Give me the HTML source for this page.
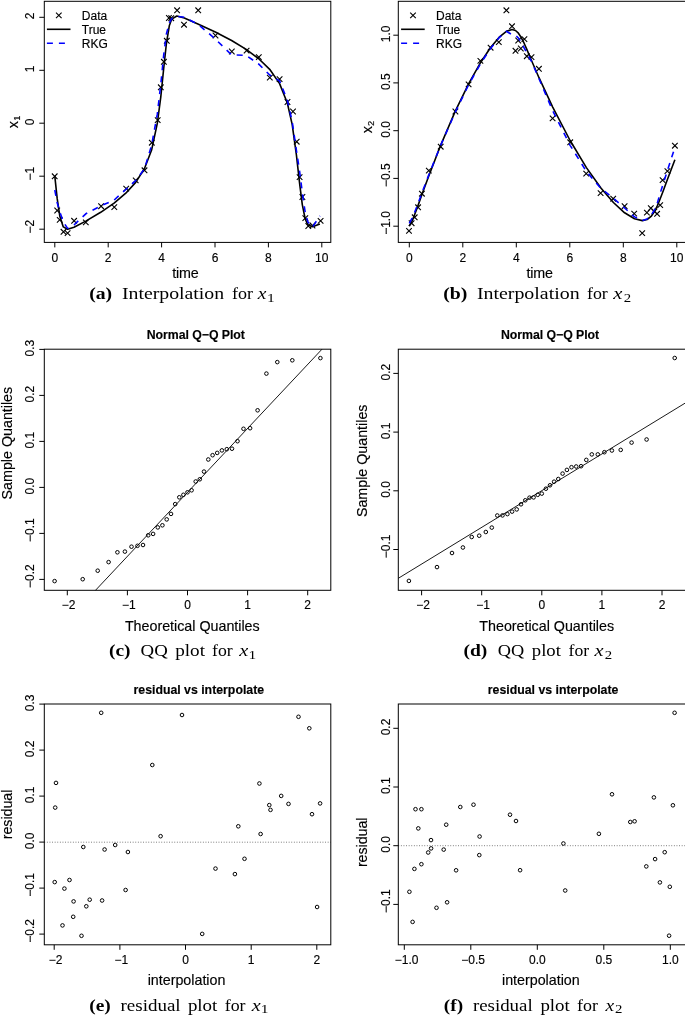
<!DOCTYPE html>
<html><head><meta charset="utf-8"><title>Figure</title>
<style>
html,body{margin:0;padding:0;background:#fff}
svg{display:block}
text{font-family:"Liberation Sans",sans-serif;fill:#000;stroke:#000;stroke-width:0.15px}
.cap{font-family:"Liberation Serif",serif;stroke:none}
</style></head><body>
<svg width="685" height="1016" viewBox="0 0 685 1016">
<defs><clipPath id="cb"><rect x="398.3" y="0" width="300" height="245"/></clipPath>
<clipPath id="cd"><rect x="398.3" y="340" width="300" height="260"/></clipPath></defs>
<rect width="685" height="1016" fill="#fff"/>
<path d="M51.9 173.5l5.6 5.6m0 -5.6l-5.6 5.6M54.4 207.7l5.6 5.6m0 -5.6l-5.6 5.6M56.9 217.1l5.6 5.6m0 -5.6l-5.6 5.6M60.7 229.0l5.6 5.6m0 -5.6l-5.6 5.6M64.8 230.3l5.6 5.6m0 -5.6l-5.6 5.6M71.3 218.0l5.6 5.6m0 -5.6l-5.6 5.6M83.0 219.6l5.6 5.6m0 -5.6l-5.6 5.6M98.3 203.4l5.6 5.6m0 -5.6l-5.6 5.6M111.5 204.3l5.6 5.6m0 -5.6l-5.6 5.6M123.4 185.8l5.6 5.6m0 -5.6l-5.6 5.6M132.9 177.6l5.6 5.6m0 -5.6l-5.6 5.6M141.7 167.5l5.6 5.6m0 -5.6l-5.6 5.6M149.0 139.9l5.6 5.6m0 -5.6l-5.6 5.6M154.9 117.3l5.6 5.6m0 -5.6l-5.6 5.6M158.0 84.5l5.6 5.6m0 -5.6l-5.6 5.6M161.1 59.0l5.6 5.6m0 -5.6l-5.6 5.6M164.0 38.0l5.6 5.6m0 -5.6l-5.6 5.6M166.1 15.2l5.6 5.6m0 -5.6l-5.6 5.6M168.4 15.4l5.6 5.6m0 -5.6l-5.6 5.6M174.3 7.5l5.6 5.6m0 -5.6l-5.6 5.6M181.2 21.9l5.6 5.6m0 -5.6l-5.6 5.6M195.4 7.5l5.6 5.6m0 -5.6l-5.6 5.6M212.7 32.7l5.6 5.6m0 -5.6l-5.6 5.6M229.0 48.7l5.6 5.6m0 -5.6l-5.6 5.6M243.8 47.8l5.6 5.6m0 -5.6l-5.6 5.6M256.0 54.3l5.6 5.6m0 -5.6l-5.6 5.6M267.0 74.8l5.6 5.6m0 -5.6l-5.6 5.6M276.8 76.3l5.6 5.6m0 -5.6l-5.6 5.6M284.7 99.2l5.6 5.6m0 -5.6l-5.6 5.6M290.2 108.7l5.6 5.6m0 -5.6l-5.6 5.6M293.9 138.9l5.6 5.6m0 -5.6l-5.6 5.6M296.8 174.3l5.6 5.6m0 -5.6l-5.6 5.6M299.6 194.2l5.6 5.6m0 -5.6l-5.6 5.6M302.5 215.3l5.6 5.6m0 -5.6l-5.6 5.6M305.5 223.2l5.6 5.6m0 -5.6l-5.6 5.6M309.7 222.7l5.6 5.6m0 -5.6l-5.6 5.6M317.8 218.1l5.6 5.6m0 -5.6l-5.6 5.6" stroke="#000" stroke-width="1.1" fill="none"/>
<polyline points="54.8,176.2 57.2,198.7 59.9,216.6 63.3,226.9 67.6,229.3 74.0,227.2 85.8,221.1 100.7,212.3 114.1,203.1 125.8,193.2 135.7,182.4 144.5,168.5 151.7,149.7 157.3,123.3 160.8,96.9 163.7,68.3 166.4,43.5 169.3,25.8 171.7,19.1 176.8,16.0 184.3,18.1 197.9,23.9 215.3,32.0 231.6,40.5 246.2,49.4 258.5,58.5 269.7,69.3 279.6,83.6 287.4,103.2 292.2,124.6 296.4,154.9 299.6,183.4 302.3,204.6 305.2,219.0 307.9,224.8 312.5,226.7 319.9,223.9" fill="none" stroke="#000" stroke-width="1.6" stroke-linejoin="round"/>
<polyline points="54.8,190.0 57.2,202.7 59.9,212.2 63.3,221.8 67.6,228.4 74.0,225.0 85.8,213.8 100.7,205.9 114.1,200.1 125.8,189.5 135.7,180.5 144.5,168.8 151.7,144.8 157.3,114.2 160.8,84.3 163.7,55.2 166.4,34.0 169.3,23.0 171.7,18.7 176.8,16.3 184.3,17.3 197.9,24.2 215.3,39.0 231.6,54.9 246.2,55.4 258.5,63.9 269.7,75.0 279.6,80.9 287.4,100.5 292.2,121.6 296.4,150.4 299.6,171.4 302.3,192.6 305.2,212.4 307.9,222.0 312.5,227.1 319.9,215.9" fill="none" stroke="#00f" stroke-width="1.6" stroke-dasharray="6 6" stroke-linejoin="round"/>
<rect x="44.3" y="1.3" width="286.5" height="241.1" fill="none" stroke="#000" stroke-width="1.0"/>
<path d="M54.8 242.4v5.0M108.2 242.4v5.0M161.6 242.4v5.0M215.0 242.4v5.0M268.4 242.4v5.0M321.8 242.4v5.0" stroke="#000" stroke-width="1.0" fill="none"/>
<text x="54.8" y="261.5" text-anchor="middle" font-size="12">0</text>
<text x="108.2" y="261.5" text-anchor="middle" font-size="12">2</text>
<text x="161.6" y="261.5" text-anchor="middle" font-size="12">4</text>
<text x="215.0" y="261.5" text-anchor="middle" font-size="12">6</text>
<text x="268.4" y="261.5" text-anchor="middle" font-size="12">8</text>
<text x="321.8" y="261.5" text-anchor="middle" font-size="12">10</text>
<path d="M44.3 17.3h-5.0M44.3 70.3h-5.0M44.3 123.2h-5.0M44.3 176.2h-5.0M44.3 229.2h-5.0" stroke="#000" stroke-width="1.0" fill="none"/>
<text transform="translate(34.0 16.0) rotate(-90)" text-anchor="middle" font-size="12">2</text>
<text transform="translate(34.0 69.0) rotate(-90)" text-anchor="middle" font-size="12">1</text>
<text transform="translate(34.0 122.0) rotate(-90)" text-anchor="middle" font-size="12">0</text>
<text transform="translate(34.0 173.7) rotate(-90)" text-anchor="middle" font-size="12">−1</text>
<text transform="translate(34.0 226.7) rotate(-90)" text-anchor="middle" font-size="12">−2</text>
<text x="172.2" y="277.7" font-size="14.3" textLength="26.4">time</text>
<text transform="translate(17.6 128.2) rotate(-90)" font-size="14.3">x<tspan font-size="9.3" dy="2.4" dx="0.4">1</tspan></text>
<path d="M56.0 12.6l5.6 5.6m0 -5.6l-5.6 5.6" stroke="#000" stroke-width="1.1" fill="none"/>
<path d="M46.9 29.3h23.6" stroke="#000" stroke-width="1.6"/>
<path d="M46.9 43.3h23.6" stroke="#00f" stroke-width="1.6" stroke-dasharray="6 6"/>
<text x="81.8" y="19.5" font-size="12">Data</text>
<text x="81.8" y="33.6" font-size="12">True</text>
<text x="81.8" y="47.5" font-size="12">RKG</text>
<path d="M406.2 228.1l5.6 5.6m0 -5.6l-5.6 5.6M408.8 220.4l5.6 5.6m0 -5.6l-5.6 5.6M411.9 214.5l5.6 5.6m0 -5.6l-5.6 5.6M415.3 204.5l5.6 5.6m0 -5.6l-5.6 5.6M419.1 190.9l5.6 5.6m0 -5.6l-5.6 5.6M426.0 167.8l5.6 5.6m0 -5.6l-5.6 5.6M437.9 143.9l5.6 5.6m0 -5.6l-5.6 5.6M452.6 108.7l5.6 5.6m0 -5.6l-5.6 5.6M465.8 81.6l5.6 5.6m0 -5.6l-5.6 5.6M477.6 58.1l5.6 5.6m0 -5.6l-5.6 5.6M487.8 44.9l5.6 5.6m0 -5.6l-5.6 5.6M496.0 39.3l5.6 5.6m0 -5.6l-5.6 5.6M503.6 7.5l5.6 5.6m0 -5.6l-5.6 5.6M509.2 23.5l5.6 5.6m0 -5.6l-5.6 5.6M512.7 48.0l5.6 5.6m0 -5.6l-5.6 5.6M515.4 37.7l5.6 5.6m0 -5.6l-5.6 5.6M518.0 45.7l5.6 5.6m0 -5.6l-5.6 5.6M521.6 36.3l5.6 5.6m0 -5.6l-5.6 5.6M524.0 53.4l5.6 5.6m0 -5.6l-5.6 5.6M528.7 54.3l5.6 5.6m0 -5.6l-5.6 5.6M536.1 66.0l5.6 5.6m0 -5.6l-5.6 5.6M549.8 115.6l5.6 5.6m0 -5.6l-5.6 5.6M567.4 139.5l5.6 5.6m0 -5.6l-5.6 5.6M583.4 170.8l5.6 5.6m0 -5.6l-5.6 5.6M597.8 190.3l5.6 5.6m0 -5.6l-5.6 5.6M610.4 195.9l5.6 5.6m0 -5.6l-5.6 5.6M621.8 203.4l5.6 5.6m0 -5.6l-5.6 5.6M631.4 210.8l5.6 5.6m0 -5.6l-5.6 5.6M639.4 230.3l5.6 5.6m0 -5.6l-5.6 5.6M644.1 209.8l5.6 5.6m0 -5.6l-5.6 5.6M648.0 205.4l5.6 5.6m0 -5.6l-5.6 5.6M651.6 208.7l5.6 5.6m0 -5.6l-5.6 5.6M654.3 211.0l5.6 5.6m0 -5.6l-5.6 5.6M657.4 202.3l5.6 5.6m0 -5.6l-5.6 5.6M659.8 177.3l5.6 5.6m0 -5.6l-5.6 5.6M664.6 168.3l5.6 5.6m0 -5.6l-5.6 5.6M672.1 142.9l5.6 5.6m0 -5.6l-5.6 5.6" stroke="#000" stroke-width="1.1" fill="none"/>
<g clip-path="url(#cb)">
<polyline points="409.3,226.2 411.7,221.6 414.4,215.2 417.9,205.9 422.1,194.1 428.6,176.5 440.3,146.1 455.3,111.1 468.7,83.7 480.5,62.7 490.4,47.8 499.2,37.2 506.4,31.3 512.0,29.5 515.5,30.5 518.4,33.2 521.1,37.3 524.1,43.2 526.5,48.6 531.5,60.5 539.0,77.7 552.7,107.1 570.1,140.5 586.4,167.6 601.1,188.2 613.4,202.5 624.6,212.8 634.5,218.8 642.3,220.6 647.1,219.5 651.4,216.1 654.6,211.4 657.3,205.9 660.2,198.8 662.9,191.8 667.4,179.5 674.9,159.8" fill="none" stroke="#000" stroke-width="1.6" stroke-linejoin="round"/>
<polyline points="409.3,223.3 411.7,218.9 414.4,212.9 417.9,203.9 422.1,192.4 428.6,175.4 440.3,146.2 455.3,112.1 468.7,84.6 480.5,63.7 490.4,48.7 499.2,37.6 506.4,31.3 512.0,34.7 515.5,35.3 518.4,38.0 521.1,42.0 524.1,47.9 526.5,52.4 531.5,61.4 539.0,78.7 552.7,110.7 570.1,145.3 586.4,171.4 601.1,188.7 613.4,198.2 624.6,208.0 634.5,216.9 642.3,220.6 647.1,218.9 651.4,214.9 654.6,209.6 657.3,203.1 660.2,193.2 662.9,184.6 667.4,170.6 674.9,147.4" fill="none" stroke="#00f" stroke-width="1.6" stroke-dasharray="6 6" stroke-linejoin="round"/>
</g>
<rect x="398.3" y="1.3" width="287.7" height="241.1" fill="none" stroke="#000" stroke-width="1.0"/>
<path d="M409.3 242.4v5.0M462.8 242.4v5.0M516.3 242.4v5.0M569.8 242.4v5.0M623.3 242.4v5.0M676.8 242.4v5.0" stroke="#000" stroke-width="1.0" fill="none"/>
<text x="409.3" y="261.5" text-anchor="middle" font-size="12">0</text>
<text x="462.8" y="261.5" text-anchor="middle" font-size="12">2</text>
<text x="516.3" y="261.5" text-anchor="middle" font-size="12">4</text>
<text x="569.8" y="261.5" text-anchor="middle" font-size="12">6</text>
<text x="623.3" y="261.5" text-anchor="middle" font-size="12">8</text>
<text x="676.8" y="261.5" text-anchor="middle" font-size="12">10</text>
<path d="M398.3 35.2h-5.0M398.3 82.9h-5.0M398.3 130.7h-5.0M398.3 178.4h-5.0M398.3 226.2h-5.0" stroke="#000" stroke-width="1.0" fill="none"/>
<text transform="translate(389.7 33.9) rotate(-90)" text-anchor="middle" font-size="12">1.0</text>
<text transform="translate(389.7 81.6) rotate(-90)" text-anchor="middle" font-size="12">0.5</text>
<text transform="translate(389.7 129.4) rotate(-90)" text-anchor="middle" font-size="12">0.0</text>
<text transform="translate(389.7 175.2) rotate(-90)" text-anchor="middle" font-size="12">−0.5</text>
<text transform="translate(389.7 223.0) rotate(-90)" text-anchor="middle" font-size="12">−1.0</text>
<text x="526.6" y="277.7" font-size="14.3" textLength="26.4">time</text>
<text transform="translate(371.5 133.3) rotate(-90)" font-size="14.3">x<tspan font-size="9.3" dy="2.4" dx="0.2">2</tspan></text>
<path d="M410.2 12.6l5.6 5.6m0 -5.6l-5.6 5.6" stroke="#000" stroke-width="1.1" fill="none"/>
<path d="M401.1 29.3h23.6" stroke="#000" stroke-width="1.6"/>
<path d="M401.1 43.3h23.6" stroke="#00f" stroke-width="1.6" stroke-dasharray="6 6"/>
<text x="436.00000000000006" y="19.5" font-size="12">Data</text>
<text x="436.00000000000006" y="33.6" font-size="12">True</text>
<text x="436.00000000000006" y="47.5" font-size="12">RKG</text>
<g fill="none" stroke="#000" stroke-width="1.0">
<circle cx="54.6" cy="581.1" r="1.8"/>
<circle cx="82.7" cy="579.2" r="1.8"/>
<circle cx="97.7" cy="570.7" r="1.8"/>
<circle cx="108.6" cy="562.1" r="1.8"/>
<circle cx="117.4" cy="552.3" r="1.8"/>
<circle cx="124.9" cy="551.6" r="1.8"/>
<circle cx="131.5" cy="546.7" r="1.8"/>
<circle cx="137.5" cy="545.8" r="1.8"/>
<circle cx="143.0" cy="545.0" r="1.8"/>
<circle cx="148.2" cy="535.3" r="1.8"/>
<circle cx="153.1" cy="533.9" r="1.8"/>
<circle cx="157.8" cy="527.4" r="1.8"/>
<circle cx="162.4" cy="525.3" r="1.8"/>
<circle cx="166.7" cy="519.4" r="1.8"/>
<circle cx="171.0" cy="513.9" r="1.8"/>
<circle cx="175.2" cy="504.1" r="1.8"/>
<circle cx="179.3" cy="497.3" r="1.8"/>
<circle cx="183.4" cy="494.8" r="1.8"/>
<circle cx="187.5" cy="492.3" r="1.8"/>
<circle cx="191.6" cy="490.3" r="1.8"/>
<circle cx="195.7" cy="481.5" r="1.8"/>
<circle cx="199.8" cy="479.3" r="1.8"/>
<circle cx="204.0" cy="471.6" r="1.8"/>
<circle cx="208.3" cy="459.5" r="1.8"/>
<circle cx="212.6" cy="455.2" r="1.8"/>
<circle cx="217.2" cy="452.9" r="1.8"/>
<circle cx="221.9" cy="450.4" r="1.8"/>
<circle cx="226.8" cy="449.2" r="1.8"/>
<circle cx="232.0" cy="448.7" r="1.8"/>
<circle cx="237.5" cy="441.2" r="1.8"/>
<circle cx="243.5" cy="428.8" r="1.8"/>
<circle cx="250.1" cy="428.2" r="1.8"/>
<circle cx="257.6" cy="410.3" r="1.8"/>
<circle cx="266.4" cy="373.6" r="1.8"/>
<circle cx="277.3" cy="362.1" r="1.8"/>
<circle cx="292.3" cy="360.3" r="1.8"/>
<circle cx="320.4" cy="358.1" r="1.8"/>
</g>
<path d="M95.5 590.3L322.0 349.2" stroke="#000" stroke-width="0.9"/>
<rect x="44.3" y="349.2" width="286.5" height="241.1" fill="none" stroke="#000" stroke-width="1.0"/>
<path d="M67.3 590.3v5.0M127.4 590.3v5.0M187.5 590.3v5.0M247.6 590.3v5.0M307.7 590.3v5.0" stroke="#000" stroke-width="1.0" fill="none"/>
<text x="68.7" y="609.4" text-anchor="middle" font-size="12">−2</text>
<text x="128.8" y="609.4" text-anchor="middle" font-size="12">−1</text>
<text x="187.5" y="609.4" text-anchor="middle" font-size="12">0</text>
<text x="247.6" y="609.4" text-anchor="middle" font-size="12">1</text>
<text x="307.7" y="609.4" text-anchor="middle" font-size="12">2</text>
<path d="M44.3 349.4h-5.0M44.3 395.4h-5.0M44.3 441.4h-5.0M44.3 487.4h-5.0M44.3 533.4h-5.0M44.3 579.4h-5.0" stroke="#000" stroke-width="1.0" fill="none"/>
<text transform="translate(34.0 348.1) rotate(-90)" text-anchor="middle" font-size="12">0.3</text>
<text transform="translate(34.0 394.1) rotate(-90)" text-anchor="middle" font-size="12">0.2</text>
<text transform="translate(34.0 440.1) rotate(-90)" text-anchor="middle" font-size="12">0.1</text>
<text transform="translate(34.0 486.1) rotate(-90)" text-anchor="middle" font-size="12">0.0</text>
<text transform="translate(34.0 530.2) rotate(-90)" text-anchor="middle" font-size="12">−0.1</text>
<text transform="translate(34.0 576.2) rotate(-90)" text-anchor="middle" font-size="12">−0.2</text>
<text x="146.7" y="339.1" font-size="12.3" font-weight="bold" textLength="98.2">Normal Q−Q Plot</text>
<text x="124.9" y="630.6" font-size="14.3" textLength="134.8">Theoretical Quantiles</text>
<text transform="translate(12.4 499.4) rotate(-90)" font-size="14.3" textLength="112.6">Sample Quantiles</text>
<g fill="none" stroke="#000" stroke-width="1.0" clip-path="url(#cd)">
<circle cx="408.9" cy="580.9" r="1.8"/>
<circle cx="437.0" cy="567.1" r="1.8"/>
<circle cx="452.0" cy="553.0" r="1.8"/>
<circle cx="462.9" cy="547.5" r="1.8"/>
<circle cx="471.7" cy="537.0" r="1.8"/>
<circle cx="479.2" cy="535.7" r="1.8"/>
<circle cx="485.8" cy="532.0" r="1.8"/>
<circle cx="491.8" cy="527.6" r="1.8"/>
<circle cx="497.3" cy="515.5" r="1.8"/>
<circle cx="502.5" cy="515.4" r="1.8"/>
<circle cx="507.4" cy="514.1" r="1.8"/>
<circle cx="512.1" cy="511.6" r="1.8"/>
<circle cx="516.7" cy="509.4" r="1.8"/>
<circle cx="521.0" cy="504.3" r="1.8"/>
<circle cx="525.3" cy="500.3" r="1.8"/>
<circle cx="529.5" cy="497.7" r="1.8"/>
<circle cx="533.6" cy="497.4" r="1.8"/>
<circle cx="537.7" cy="494.8" r="1.8"/>
<circle cx="541.8" cy="493.6" r="1.8"/>
<circle cx="545.9" cy="488.7" r="1.8"/>
<circle cx="550.0" cy="485.3" r="1.8"/>
<circle cx="554.1" cy="481.7" r="1.8"/>
<circle cx="558.3" cy="479.0" r="1.8"/>
<circle cx="562.6" cy="473.6" r="1.8"/>
<circle cx="566.9" cy="469.9" r="1.8"/>
<circle cx="571.5" cy="467.2" r="1.8"/>
<circle cx="576.2" cy="466.5" r="1.8"/>
<circle cx="581.1" cy="466.2" r="1.8"/>
<circle cx="586.3" cy="459.9" r="1.8"/>
<circle cx="591.8" cy="454.4" r="1.8"/>
<circle cx="597.8" cy="454.4" r="1.8"/>
<circle cx="604.4" cy="452.2" r="1.8"/>
<circle cx="611.9" cy="450.5" r="1.8"/>
<circle cx="620.7" cy="449.9" r="1.8"/>
<circle cx="631.6" cy="442.6" r="1.8"/>
<circle cx="646.6" cy="439.5" r="1.8"/>
<circle cx="674.7" cy="358.0" r="1.8"/>
</g>
<path d="M398.3 578.3L685 403.2" stroke="#000" stroke-width="0.9"/>
<rect x="398.3" y="349.2" width="287.7" height="241.1" fill="none" stroke="#000" stroke-width="1.0"/>
<path d="M421.6 590.3v5.0M481.7 590.3v5.0M541.8 590.3v5.0M601.9 590.3v5.0M662.0 590.3v5.0" stroke="#000" stroke-width="1.0" fill="none"/>
<text x="423.0" y="609.4" text-anchor="middle" font-size="12">−2</text>
<text x="483.1" y="609.4" text-anchor="middle" font-size="12">−1</text>
<text x="541.8" y="609.4" text-anchor="middle" font-size="12">0</text>
<text x="601.9" y="609.4" text-anchor="middle" font-size="12">1</text>
<text x="662.0" y="609.4" text-anchor="middle" font-size="12">2</text>
<path d="M398.3 373.4h-5.0M398.3 432.1h-5.0M398.3 490.8h-5.0M398.3 549.5h-5.0" stroke="#000" stroke-width="1.0" fill="none"/>
<text transform="translate(389.7 372.1) rotate(-90)" text-anchor="middle" font-size="12">0.2</text>
<text transform="translate(389.7 430.8) rotate(-90)" text-anchor="middle" font-size="12">0.1</text>
<text transform="translate(389.7 489.5) rotate(-90)" text-anchor="middle" font-size="12">0.0</text>
<text transform="translate(389.7 546.3) rotate(-90)" text-anchor="middle" font-size="12">−0.1</text>
<text x="501.0" y="339.1" font-size="12.3" font-weight="bold" textLength="98.2">Normal Q−Q Plot</text>
<text x="479.3" y="630.6" font-size="14.3" textLength="134.8">Theoretical Quantiles</text>
<text transform="translate(367.0 517.1) rotate(-90)" font-size="14.3" textLength="112.6">Sample Quantiles</text>
<g fill="none" stroke="#000" stroke-width="1.0">
<circle cx="101.2" cy="712.8" r="1.8"/>
<circle cx="56.0" cy="782.9" r="1.8"/>
<circle cx="55.2" cy="807.6" r="1.8"/>
<circle cx="83.3" cy="847.0" r="1.8"/>
<circle cx="104.6" cy="849.5" r="1.8"/>
<circle cx="115.2" cy="845.0" r="1.8"/>
<circle cx="127.9" cy="852.0" r="1.8"/>
<circle cx="54.7" cy="882.1" r="1.8"/>
<circle cx="69.5" cy="880.0" r="1.8"/>
<circle cx="64.4" cy="888.6" r="1.8"/>
<circle cx="125.6" cy="890.0" r="1.8"/>
<circle cx="73.6" cy="901.4" r="1.8"/>
<circle cx="89.7" cy="899.7" r="1.8"/>
<circle cx="102.1" cy="900.5" r="1.8"/>
<circle cx="86.3" cy="906.3" r="1.8"/>
<circle cx="73.2" cy="916.8" r="1.8"/>
<circle cx="62.5" cy="925.4" r="1.8"/>
<circle cx="81.5" cy="935.8" r="1.8"/>
<circle cx="182.0" cy="715.0" r="1.8"/>
<circle cx="152.3" cy="765.0" r="1.8"/>
<circle cx="160.6" cy="836.2" r="1.8"/>
<circle cx="215.5" cy="868.6" r="1.8"/>
<circle cx="234.9" cy="874.1" r="1.8"/>
<circle cx="202.2" cy="933.9" r="1.8"/>
<circle cx="238.3" cy="826.3" r="1.8"/>
<circle cx="298.5" cy="716.8" r="1.8"/>
<circle cx="309.3" cy="728.3" r="1.8"/>
<circle cx="259.4" cy="783.5" r="1.8"/>
<circle cx="281.2" cy="795.9" r="1.8"/>
<circle cx="269.3" cy="805.1" r="1.8"/>
<circle cx="270.5" cy="809.9" r="1.8"/>
<circle cx="288.5" cy="803.9" r="1.8"/>
<circle cx="320.1" cy="803.4" r="1.8"/>
<circle cx="312.0" cy="814.2" r="1.8"/>
<circle cx="260.6" cy="834.0" r="1.8"/>
<circle cx="244.5" cy="858.8" r="1.8"/>
<circle cx="317.1" cy="907.0" r="1.8"/>
</g>
<path d="M44.3 842.2H330.8" stroke="#000" stroke-width="0.8" stroke-opacity="0.7" stroke-dasharray="0.9 1.7"/>
<rect x="44.3" y="704.0" width="286.5" height="240.8" fill="none" stroke="#000" stroke-width="1.0"/>
<path d="M54.2 944.8v5.0M119.9 944.8v5.0M185.5 944.8v5.0M251.2 944.8v5.0M316.8 944.8v5.0" stroke="#000" stroke-width="1.0" fill="none"/>
<text x="55.6" y="963.9" text-anchor="middle" font-size="12">−2</text>
<text x="121.3" y="963.9" text-anchor="middle" font-size="12">−1</text>
<text x="185.5" y="963.9" text-anchor="middle" font-size="12">0</text>
<text x="251.2" y="963.9" text-anchor="middle" font-size="12">1</text>
<text x="316.8" y="963.9" text-anchor="middle" font-size="12">2</text>
<path d="M44.3 704.1h-5.0M44.3 750.1h-5.0M44.3 796.1h-5.0M44.3 842.1h-5.0M44.3 888.1h-5.0M44.3 934.1h-5.0" stroke="#000" stroke-width="1.0" fill="none"/>
<text transform="translate(34.0 702.8) rotate(-90)" text-anchor="middle" font-size="12">0.3</text>
<text transform="translate(34.0 748.8) rotate(-90)" text-anchor="middle" font-size="12">0.2</text>
<text transform="translate(34.0 794.8) rotate(-90)" text-anchor="middle" font-size="12">0.1</text>
<text transform="translate(34.0 840.8) rotate(-90)" text-anchor="middle" font-size="12">0.0</text>
<text transform="translate(34.0 884.9) rotate(-90)" text-anchor="middle" font-size="12">−0.1</text>
<text transform="translate(34.0 930.9) rotate(-90)" text-anchor="middle" font-size="12">−0.2</text>
<text x="133.5" y="693.7" font-size="12.3" font-weight="bold" textLength="130.6">residual vs interpolate</text>
<text x="147.7" y="984.9" font-size="14.3" textLength="77.7">interpolation</text>
<text transform="translate(12.4 839.2) rotate(-90)" font-size="14.3" textLength="49.6">residual</text>
<g fill="none" stroke="#000" stroke-width="1.0">
<circle cx="415.5" cy="809.2" r="1.8"/>
<circle cx="421.4" cy="809.2" r="1.8"/>
<circle cx="460.3" cy="807.0" r="1.8"/>
<circle cx="473.5" cy="804.7" r="1.8"/>
<circle cx="446.2" cy="824.7" r="1.8"/>
<circle cx="418.3" cy="828.4" r="1.8"/>
<circle cx="431.0" cy="840.1" r="1.8"/>
<circle cx="479.6" cy="836.5" r="1.8"/>
<circle cx="431.1" cy="848.4" r="1.8"/>
<circle cx="428.2" cy="852.5" r="1.8"/>
<circle cx="443.7" cy="849.6" r="1.8"/>
<circle cx="479.3" cy="855.1" r="1.8"/>
<circle cx="421.4" cy="864.2" r="1.8"/>
<circle cx="414.4" cy="868.9" r="1.8"/>
<circle cx="456.1" cy="870.3" r="1.8"/>
<circle cx="409.4" cy="891.8" r="1.8"/>
<circle cx="447.1" cy="902.3" r="1.8"/>
<circle cx="436.5" cy="907.8" r="1.8"/>
<circle cx="412.6" cy="921.9" r="1.8"/>
<circle cx="510.0" cy="814.7" r="1.8"/>
<circle cx="516.0" cy="821.0" r="1.8"/>
<circle cx="563.4" cy="843.5" r="1.8"/>
<circle cx="520.1" cy="870.2" r="1.8"/>
<circle cx="565.2" cy="890.5" r="1.8"/>
<circle cx="674.6" cy="712.8" r="1.8"/>
<circle cx="612.0" cy="794.3" r="1.8"/>
<circle cx="653.9" cy="797.4" r="1.8"/>
<circle cx="672.9" cy="805.3" r="1.8"/>
<circle cx="630.3" cy="822.0" r="1.8"/>
<circle cx="634.6" cy="821.3" r="1.8"/>
<circle cx="598.9" cy="833.8" r="1.8"/>
<circle cx="664.7" cy="852.2" r="1.8"/>
<circle cx="655.1" cy="859.1" r="1.8"/>
<circle cx="646.3" cy="866.4" r="1.8"/>
<circle cx="659.9" cy="882.4" r="1.8"/>
<circle cx="669.8" cy="886.8" r="1.8"/>
<circle cx="669.1" cy="935.7" r="1.8"/>
</g>
<path d="M398.3 845.7H685" stroke="#000" stroke-width="0.8" stroke-opacity="0.7" stroke-dasharray="0.9 1.7"/>
<rect x="398.3" y="704.0" width="287.7" height="240.8" fill="none" stroke="#000" stroke-width="1.0"/>
<path d="M404.3 944.8v5.0M470.8 944.8v5.0M537.3 944.8v5.0M603.8 944.8v5.0M670.3 944.8v5.0" stroke="#000" stroke-width="1.0" fill="none"/>
<text x="406.7" y="963.9" text-anchor="middle" font-size="12">−1.0</text>
<text x="473.2" y="963.9" text-anchor="middle" font-size="12">−0.5</text>
<text x="537.3" y="963.9" text-anchor="middle" font-size="12">0.0</text>
<text x="603.8" y="963.9" text-anchor="middle" font-size="12">0.5</text>
<text x="670.3" y="963.9" text-anchor="middle" font-size="12">1.0</text>
<path d="M398.3 728.3h-5.0M398.3 787.0h-5.0M398.3 845.7h-5.0M398.3 904.4h-5.0" stroke="#000" stroke-width="1.0" fill="none"/>
<text transform="translate(389.7 727.0) rotate(-90)" text-anchor="middle" font-size="12">0.2</text>
<text transform="translate(389.7 785.7) rotate(-90)" text-anchor="middle" font-size="12">0.1</text>
<text transform="translate(389.7 844.4) rotate(-90)" text-anchor="middle" font-size="12">0.0</text>
<text transform="translate(389.7 901.2) rotate(-90)" text-anchor="middle" font-size="12">−0.1</text>
<text x="487.8" y="693.7" font-size="12.3" font-weight="bold" textLength="130.6">residual vs interpolate</text>
<text x="502.0" y="984.9" font-size="14.3" textLength="77.7">interpolation</text>
<text transform="translate(367.0 867.1) rotate(-90)" font-size="14.3" textLength="49.6">residual</text>
<text class="cap" x="89.2" y="299.4" font-size="16" textLength="23.0" lengthAdjust="spacingAndGlyphs" font-weight="bold">(a)</text>
<text class="cap" x="122.0" y="299.4" font-size="16" textLength="102.1" lengthAdjust="spacingAndGlyphs">Interpolation</text>
<text class="cap" x="232.0" y="299.4" font-size="16" textLength="21.0" lengthAdjust="spacingAndGlyphs">for</text>
<text class="cap" x="257.8" y="299.4" font-size="16" textLength="8.6" lengthAdjust="spacingAndGlyphs" font-style="italic">x</text>
<text class="cap" x="267.1" y="301.7" font-size="12" textLength="7.8" lengthAdjust="spacingAndGlyphs">1</text>
<text class="cap" x="443.2" y="299.4" font-size="16" textLength="24.2" lengthAdjust="spacingAndGlyphs" font-weight="bold">(b)</text>
<text class="cap" x="476.9" y="299.4" font-size="16" textLength="102.7" lengthAdjust="spacingAndGlyphs">Interpolation</text>
<text class="cap" x="587.0" y="299.4" font-size="16" textLength="20.8" lengthAdjust="spacingAndGlyphs">for</text>
<text class="cap" x="613.3" y="299.4" font-size="16" textLength="9.1" lengthAdjust="spacingAndGlyphs" font-style="italic">x</text>
<text class="cap" x="623.8" y="301.7" font-size="12" textLength="7.4" lengthAdjust="spacingAndGlyphs">2</text>
<text class="cap" x="109.0" y="656.4" font-size="16" textLength="21.5" lengthAdjust="spacingAndGlyphs" font-weight="bold">(c)</text>
<text class="cap" x="140.6" y="656.4" font-size="16" textLength="27.2" lengthAdjust="spacingAndGlyphs">QQ</text>
<text class="cap" x="175.2" y="656.4" font-size="16" textLength="29.8" lengthAdjust="spacingAndGlyphs">plot</text>
<text class="cap" x="212.0" y="656.4" font-size="16" textLength="20.6" lengthAdjust="spacingAndGlyphs">for</text>
<text class="cap" x="239.3" y="656.4" font-size="16" textLength="9.0" lengthAdjust="spacingAndGlyphs" font-style="italic">x</text>
<text class="cap" x="248.5" y="658.7" font-size="12" textLength="7.8" lengthAdjust="spacingAndGlyphs">1</text>
<text class="cap" x="463.4" y="656.4" font-size="16" textLength="23.9" lengthAdjust="spacingAndGlyphs" font-weight="bold">(d)</text>
<text class="cap" x="497.7" y="656.4" font-size="16" textLength="26.4" lengthAdjust="spacingAndGlyphs">QQ</text>
<text class="cap" x="531.8" y="656.4" font-size="16" textLength="29.1" lengthAdjust="spacingAndGlyphs">plot</text>
<text class="cap" x="568.5" y="656.4" font-size="16" textLength="20.6" lengthAdjust="spacingAndGlyphs">for</text>
<text class="cap" x="594.6" y="656.4" font-size="16" textLength="9.0" lengthAdjust="spacingAndGlyphs" font-style="italic">x</text>
<text class="cap" x="604.8" y="658.7" font-size="12" textLength="7.4" lengthAdjust="spacingAndGlyphs">2</text>
<text class="cap" x="89.2" y="1010.5" font-size="16" textLength="21.5" lengthAdjust="spacingAndGlyphs" font-weight="bold">(e)</text>
<text class="cap" x="120.5" y="1010.5" font-size="16" textLength="60.1" lengthAdjust="spacingAndGlyphs">residual</text>
<text class="cap" x="187.9" y="1010.5" font-size="16" textLength="29.4" lengthAdjust="spacingAndGlyphs">plot</text>
<text class="cap" x="224.7" y="1010.5" font-size="16" textLength="20.8" lengthAdjust="spacingAndGlyphs">for</text>
<text class="cap" x="251.7" y="1010.5" font-size="16" textLength="8.9" lengthAdjust="spacingAndGlyphs" font-style="italic">x</text>
<text class="cap" x="260.7" y="1012.8" font-size="12" textLength="7.8" lengthAdjust="spacingAndGlyphs">1</text>
<text class="cap" x="443.8" y="1010.5" font-size="16" textLength="19.3" lengthAdjust="spacingAndGlyphs" font-weight="bold">(f)</text>
<text class="cap" x="472.9" y="1010.5" font-size="16" textLength="59.8" lengthAdjust="spacingAndGlyphs">residual</text>
<text class="cap" x="540.4" y="1010.5" font-size="16" textLength="29.4" lengthAdjust="spacingAndGlyphs">plot</text>
<text class="cap" x="577.1" y="1010.5" font-size="16" textLength="20.9" lengthAdjust="spacingAndGlyphs">for</text>
<text class="cap" x="605.4" y="1010.5" font-size="16" textLength="8.6" lengthAdjust="spacingAndGlyphs" font-style="italic">x</text>
<text class="cap" x="615.0" y="1012.8" font-size="12" textLength="7.4" lengthAdjust="spacingAndGlyphs">2</text>
</svg>
</body></html>
